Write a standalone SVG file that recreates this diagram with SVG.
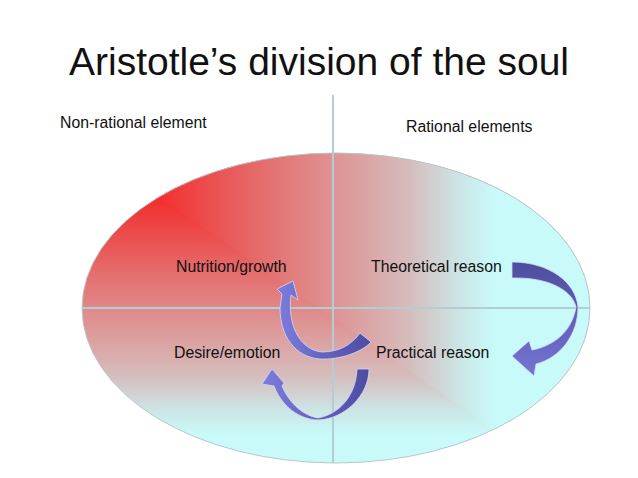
<svg xmlns="http://www.w3.org/2000/svg" width="638" height="478" viewBox="0 0 638 478">
<defs>
<style>
text{font-family:"Liberation Sans",Arial,sans-serif;fill:#111}
.lbl{font-size:15.8px}
.axis{stroke:#b4ccd4;stroke-width:2;fill:none}
.arrow{stroke:#d8d8f4;stroke-width:0.8}
</style>
<linearGradient id="gx" gradientUnits="userSpaceOnUse" x1="150" y1="0" x2="495" y2="0">
<stop offset="0" stop-color="#f42a2a"/>
<stop offset="0.3" stop-color="#e66868"/>
<stop offset="0.55" stop-color="#de9696"/>
<stop offset="0.75" stop-color="#d6bcbc"/>
<stop offset="0.9" stop-color="#cce6e6"/>
<stop offset="1" stop-color="#c8fafa"/>
</linearGradient>
<linearGradient id="gy" gradientUnits="userSpaceOnUse" x1="0" y1="195" x2="0" y2="435">
<stop offset="0" stop-color="#f42a2a"/>
<stop offset="0.3" stop-color="#e66868"/>
<stop offset="0.55" stop-color="#de9696"/>
<stop offset="0.75" stop-color="#d6bcbc"/>
<stop offset="0.9" stop-color="#cce6e6"/>
<stop offset="1" stop-color="#c8fafa"/>
</linearGradient>
<clipPath id="ell"><ellipse cx="336" cy="308" rx="254" ry="155"/></clipPath>
<linearGradient id="ah" x1="0" y1="0" x2="1" y2="0">
<stop offset="0" stop-color="#7c7cde"/>
<stop offset="1" stop-color="#4c4ca2"/>
</linearGradient>
<linearGradient id="av" x1="0" y1="0" x2="0" y2="1">
<stop offset="0" stop-color="#4e4e9e"/>
<stop offset="1" stop-color="#7474d4"/>
</linearGradient>
</defs>
<rect width="638" height="478" fill="#fff"/>
<text x="319" y="75" text-anchor="middle" font-size="39">Aristotle’s division of the soul</text>
<text x="60" y="128" class="lbl">Non-rational element</text>
<text x="406" y="132" class="lbl">Rational elements</text>
<g id="soul-ellipse">
<g clip-path="url(#ell)">
<rect x="0" y="0" width="638" height="478" fill="url(#gy)"/>
<polygon points="-100,17 700,573 700,-10 -100,-10" fill="url(#gx)"/>
</g>
<ellipse cx="336" cy="308" rx="254" ry="155" fill="none" stroke="#b8c8cc" stroke-width="1"/>
</g>
<g id="axes">
<line class="axis" x1="333" y1="95" x2="333" y2="463"/>
<line class="axis" x1="82" y1="308" x2="590" y2="308"/>
</g>
<g id="nutrition"><text x="176" y="272" class="lbl">Nutrition/growth</text></g>
<g id="theoretical"><text x="371" y="272" class="lbl">Theoretical reason</text></g>
<g id="desire"><text x="174" y="358" class="lbl">Desire/emotion</text></g>
<g id="practical"><text x="376" y="358" class="lbl">Practical reason</text></g>
<g id="connectors">
<path class="arrow" fill="url(#av)" d="M512,262 C550,262 576,283 578,307 C578,335 560,358 536,364 L534,376 L512,356 L529,341 L532,350 C553,346 572,332 576,307 C572,290 548,277 512,278 Z"/>
<path class="arrow" fill="url(#ah)" d="M371,342 C362,352 340,360 320,359 C295,357 280,336 280,308 L282,294 L277,289 L293,281 L298,300 L291,295 C287,325 300,350 322,352 C340,352 352,344 360,333 Z"/>
<path class="arrow" fill="url(#ah)" d="M369,369 C369,395 345,419 318,420 C295,419 280,402 274,386 L262,384 L272,369 L284,383 L282,386 C290,405 305,416 318,418 C340,414 356,395 357,369 Z"/>
</g>
</svg>
